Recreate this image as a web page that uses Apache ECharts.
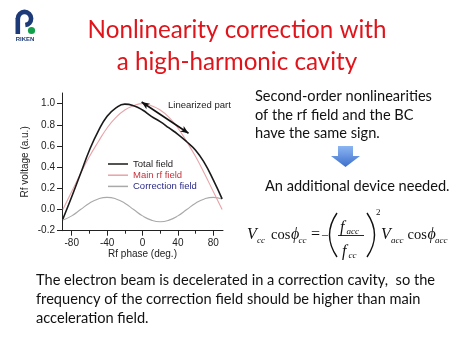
<!DOCTYPE html>
<html><head><meta charset="utf-8">
<script src="https://cdn.jsdelivr.net/npm/echarts@6/dist/echarts.min.js"></script>
<style>html,body{margin:0;padding:0;background:#fff}#c{width:474px;height:355px}</style>
</head><body><div id="c"></div>
<script>
// ---- data ----
const phases = [-90,-80,-70,-60,-50,-40,-30,-20,-10,0,10,20,30,40,50,60,70,80,90];
const totalField = [-0.09,0.12,0.34,0.56,0.74,0.88,0.96,0.995,0.98,0.94,0.88,0.83,0.77,0.71,0.64,0.56,0.44,0.28,0.10];
const mainField = [0.00,0.17,0.34,0.50,0.64,0.77,0.87,0.94,0.98,1.00,0.98,0.94,0.87,0.77,0.64,0.50,0.34,0.17,0.00];
const correctionField = [-0.10,-0.06,0.00,0.06,0.10,0.115,0.10,0.06,0.00,-0.06,-0.10,-0.115,-0.10,-0.06,0.00,0.06,0.10,0.115,0.10];
const seriesNames = ['Total field','Main rf field','Correction field'];
const xTickLabels = [-80,-40,0,40,80];
const xMinorTicks = [-80,-60,-40,-20,0,20,40,60,80];
const yTickLabels = [-0.2,0,0.2,0.4,0.6,0.8,1.0];
const arrowFrom = [-1, 1.015];
const arrowTo = [52, 0.72];
const titleLines = ['Nonlinearity correction with','a high-harmonic cavity'];
const rightLines = ['Second-order nonlinearities','of the rf field and the BC','have the same sign.'];
const neededLine = 'An additional device needed.';
const bottomLines = ['The electron beam is decelerated in a correction cavity,  so the','frequency of the correction field should be higher than main','acceleration field.'];

const ctx = document.createElement('canvas').getContext('2d');
function fit(text, family, target){ ctx.font = '100px ' + family; return 100*target/ctx.measureText(text).width; }
const SANS = 'Lato';
const titleSize = fit(titleLines[0], SANS, 299);
const rightSize = fit(rightLines[0], SANS, 177);
const bottomSize = fit(bottomLines[0], SANS, 399);

function txt(text, x, y, size, fill, align, family){
  return {type:'text', x:x, y:y, silent:true, style:{text:text, font: size.toFixed(2)+'px '+(family||SANS), fill:fill, align:align, textAlign:align, verticalAlign:'middle', textVerticalAlign:'middle'}};
}
function eq(text, x, y, size, italic){
  return {type:'text', x:x, y:y, silent:true, style:{text:text, font:(italic?'italic ':'')+size+'px "Liberation Serif"', fill:'#111', align:'left', textAlign:'left', verticalAlign:'middle', textVerticalAlign:'middle'}};
}

const graphics = [];
titleLines.forEach((t,i)=>graphics.push(txt(t, 237, [30,62][i], titleSize, '#e0141b', 'center')));
rightLines.forEach((t,i)=>graphics.push(txt(t, 255, [96.7,115,133.3][i], rightSize, '#111', 'left')));
graphics.push(txt(neededLine, 265, 186.7, rightSize, '#111', 'left'));
bottomLines.forEach((t,i)=>graphics.push(txt(t, 36, [280.7,299.3,318.3][i], bottomSize, '#111', 'left')));

// blue down arrow
graphics.push({type:'polygon', silent:true, shape:{points:[[338,146],[353,146],[353,156],[360,156],[345.5,167],[331,156],[338,156]]},
  style:{fill:new echarts.graphic.LinearGradient(0,0,0,1,[{offset:0,color:'#8cb6f2'},{offset:1,color:'#3d6fcc'}])}});

// RIKEN logo
graphics.push({type:'rect', silent:true, shape:{x:15.5, y:18, width:4.6, height:16}, style:{fill:'#1c3a78'}});
graphics.push({type:'arc', silent:true, shape:{cx:24.5, cy:18.5, r:6.6, startAngle:Math.PI, endAngle:Math.PI*2+1.45, clockwise:true}, style:{stroke:'#1c3a78', lineWidth:4.6, fill:null}});
graphics.push({type:'circle', silent:true, shape:{cx:31.5, cy:30.5, r:3.6}, style:{fill:'#13a04a'}});
graphics.push({type:'text', silent:true, x:25, y:39.5, style:{text:'RIKEN', font:'bold 6px "Liberation Sans"', fill:'#1c3a78', align:'center', textAlign:'center', verticalAlign:'middle', textVerticalAlign:'middle'}});

// equation
const EY = 235, SY = 240.5, FS = 16, CS = 14.5, SS = 9;
graphics.push(eq('V', 247, EY, FS, true));
graphics.push(eq('cc', 257, SY, SS, true));
graphics.push(eq('cos', 271, EY, CS, false));
graphics.push(eq('\u03D5', 291, EY, FS, true));
graphics.push(eq('cc', 298.5, SY, SS, true));
graphics.push(eq('=', 311, EY, FS, false));
graphics.push(eq('\u2013', 322, EY, 12, false));
graphics.push({type:'bezierCurve', silent:true, shape:{x1:337, y1:213, x2:337, y2:257, cpx1:322, cpy1:235}, style:{stroke:'#111', lineWidth:1.4, fill:null}});
graphics.push({type:'bezierCurve', silent:true, shape:{x1:367, y1:213, x2:367, y2:257, cpx1:382, cpy1:235}, style:{stroke:'#111', lineWidth:1.4, fill:null}});
graphics.push(eq('f', 340, 228, FS, true));
graphics.push(eq('acc', 346.5, 232, SS, true));
graphics.push({type:'line', silent:true, shape:{x1:338, y1:235.5, x2:364, y2:235.5}, style:{stroke:'#111', lineWidth:0.9}});
graphics.push(eq('f', 342, 252, FS, true));
graphics.push(eq('cc', 348.5, 256, SS, true));
graphics.push(eq('2', 376, 213, SS, false));
graphics.push(eq('V', 381, EY, FS, true));
graphics.push(eq('acc', 391, SY, SS, true));
graphics.push(eq('cos', 407.5, EY, CS, false));
graphics.push(eq('\u03D5', 427.5, EY, FS, true));
graphics.push(eq('acc', 435, SY, SS, true));

const CF = '"Liberation Sans"';
const chart = echarts.init(document.getElementById('c'), null, {renderer:'canvas'});
const mk = arr => phases.map((p,i)=>[p, arr[i]]);
chart.setOption({
  backgroundColor:'#fff',
  animation:false,
  grid:{left:62, top:93, width:161, height:137.7},
  legend:{left:108, top:159, padding:0, orient:'vertical', itemGap:1.2, itemWidth:20, itemHeight:1.5, icon:'rect',
    textStyle:{fontSize:9.5, lineHeight:9.5, fontFamily:CF},
    data:[{name:seriesNames[0], textStyle:{color:'#222'}},{name:seriesNames[1], textStyle:{color:'#c8323c'}},{name:seriesNames[2], textStyle:{color:'#2a2a8c'}}]},
  xAxis:[{type:'value', min:-91, max:91, name:'Rf phase (deg.)', nameLocation:'middle', nameGap:17.5,
      nameTextStyle:{fontSize:10, fontFamily:CF, color:'#222'},
      axisLine:{onZero:false, lineStyle:{color:'#222', width:1}},
      axisTick:{length:5, inside:false, customValues:xTickLabels, lineStyle:{color:'#222'}},
      axisLabel:{customValues:xTickLabels, margin:8, fontSize:10, fontFamily:CF, color:'#222'},
      splitLine:{show:false}},
    {type:'value', min:-91, max:91, position:'bottom', offset:0,
      axisLine:{show:false, onZero:false}, axisLabel:{show:false}, splitLine:{show:false},
      axisTick:{length:3, customValues:xMinorTicks, lineStyle:{color:'#222'}}}],
  yAxis:{type:'value', min:-0.2, max:1.1, name:'Rf voltage (a.u.)', nameLocation:'middle', nameGap:32,
    nameTextStyle:{fontSize:10, fontFamily:CF, color:'#222'},
    axisLine:{show:true, onZero:false, lineStyle:{color:'#222', width:1}},
    axisTick:{show:true, length:5, customValues:yTickLabels, lineStyle:{color:'#222'}},
    axisLabel:{customValues:yTickLabels, margin:7, fontSize:10, fontFamily:CF, color:'#222', formatter:v=>v.toFixed(1)},
    splitLine:{show:false}},
  series:[
    {name:seriesNames[2], type:'line', data:mk(correctionField), smooth:true, showSymbol:false, color:'#a9a9a9', lineStyle:{width:1.1, color:'#a9a9a9'}, z:2},
    {name:seriesNames[1], type:'line', data:mk(mainField), smooth:true, showSymbol:false, color:'#e8a3a8', lineStyle:{width:1.1, color:'#e8a3a8'}, z:3},
    {name:seriesNames[0], type:'line', data:mk(totalField), smooth:true, showSymbol:false, color:'#1a1a1a', lineStyle:{width:1.6, color:'#1a1a1a'}, z:4,
      markLine:{silent:true, symbol:['arrow','arrow'], symbolSize:[5,8], label:{show:false}, lineStyle:{color:'#111', width:1.6, type:'solid'},
        data:[[{coord:arrowFrom},{coord:arrowTo}]]}}
  ],
  graphic:graphics.concat([txt('Linearized part', 168, 105, 9.5, '#222', 'left', CF)])
});
</script></body></html>
